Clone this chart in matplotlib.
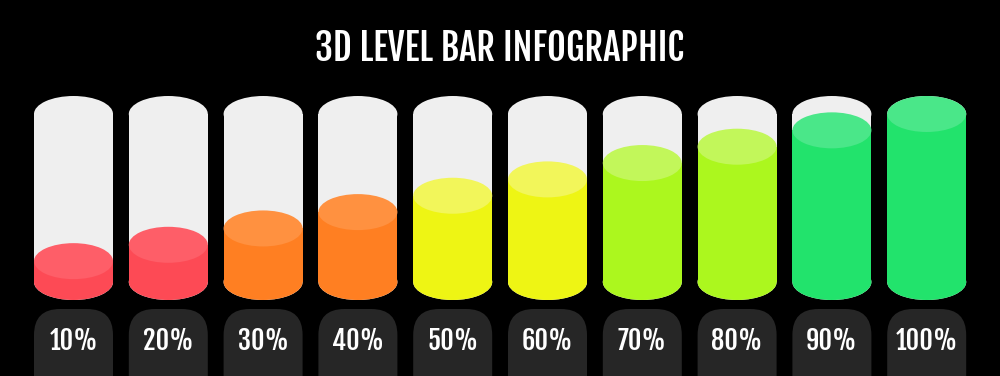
import matplotlib
matplotlib.use("Agg")
import matplotlib.pyplot as plt
from matplotlib.patches import Rectangle, Ellipse, FancyBboxPatch

# data
levels = [10, 20, 30, 40, 50, 60, 70, 80, 90, 100]
labels = ['10%', '20%', '30%', '40%', '50%', '60%', '70%', '80%', '90%', '100%']
side_colors = ['#fd4a55', '#fd4a55', '#ff7f22', '#ff7f22', '#eef514',
               '#eef514', '#acf71e', '#acf71e', '#22e36c', '#22e36c']
top_colors = ['#fe5e68', '#fe5e68', '#ff9140', '#ff9140', '#f2f65a',
              '#f2f65a', '#c2f75a', '#c2f75a', '#4ae789', '#4ae789']
title = '3D LEVEL BAR INFOGRAPHIC'

# layout (pixels)
x0 = 34
step = 94.8
w = 79
eh = 36            # ellipse height
top_c = 114        # centre of top ellipse of glass
bot_c = 282        # centre of bottom ellipse
base = 277.5       # fill centre at 0 %
span = 163.5       # fill travel for 100 %
glass = '#efefef'
shadow = '#262626'
font = ['Fjalla One', 'Oswald', 'DejaVu Sans']

fig = plt.figure(figsize=(10, 3.76), dpi=100)
fig.patch.set_facecolor('black')
ax = fig.add_axes([0, 0, 1, 1])
ax.set_xlim(0, 1000)
ax.set_ylim(376, 0)
ax.axis('off')

for i, lv in enumerate(levels):
    xl = x0 + i * step
    xc = xl + w / 2
    # reflection plate
    ax.add_patch(FancyBboxPatch((xl, 309), w, 100, boxstyle='round,pad=0,rounding_size=26',
                                fc=shadow, ec='none'))
    ax.text(xc, 350, labels[i], color='white', fontsize=19, family=font,
            ha='center', va='baseline')
    # glass
    ax.add_patch(Rectangle((xl, top_c), w, bot_c - top_c, color=glass, lw=0))
    ax.add_patch(Ellipse((xc, top_c), w, eh, color=glass, lw=0))
    ax.add_patch(Ellipse((xc, bot_c), w, eh, color=glass, lw=0))
    # liquid
    fy = base - lv / 100 * span
    ax.add_patch(Rectangle((xl, fy), w, bot_c - fy, color=side_colors[i], lw=0))
    ax.add_patch(Ellipse((xc, bot_c), w, eh, color=side_colors[i], lw=0))
    ax.add_patch(Ellipse((xc, fy), w, eh, color=top_colors[i], lw=0))

ax.text(499, 61, title, color='white', fontsize=26.3, family=font,
        ha='center', va='baseline')

fig.savefig('out.png', dpi=100, facecolor='black')
